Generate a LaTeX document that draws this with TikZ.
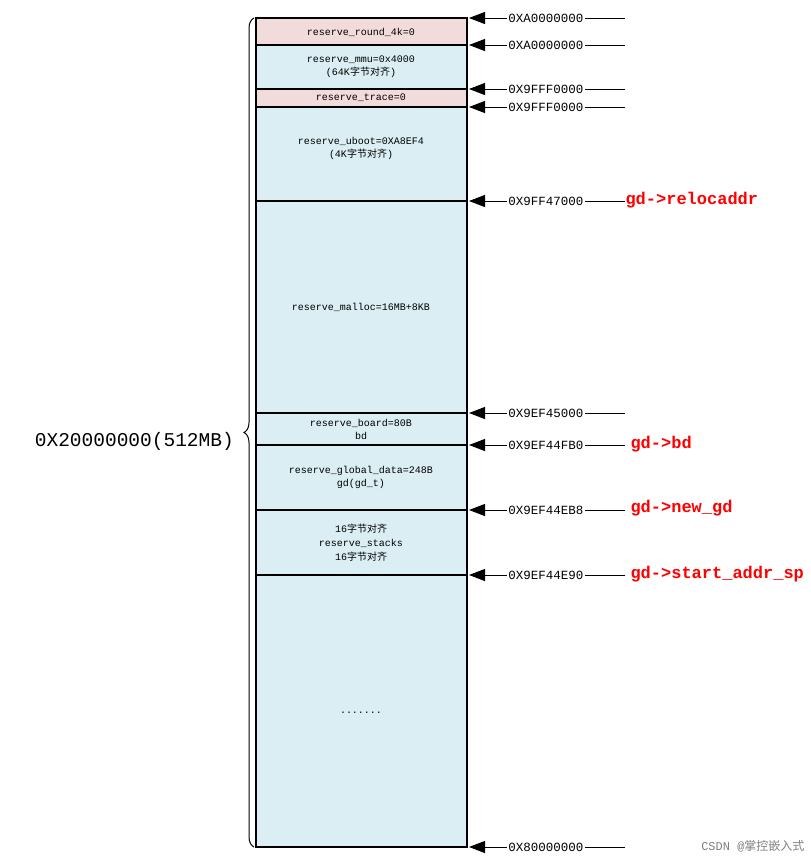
\documentclass[tikz,border=0pt]{standalone}
\usepackage{fontspec}
\setmainfont{Liberation Mono}
\newfontfamily\cjk{Noto Sans CJK SC}
\newcommand{\zh}[1]{{\cjk #1}}
\usetikzlibrary{arrows.meta,decorations.pathreplacing}
\definecolor{pinkc}{HTML}{F2DCDB}
\definecolor{bluec}{HTML}{DAEEF3}
\begin{document}
\begin{tikzpicture}[x=1pt,y=-1pt,
 seg/.style={draw=black,line width=1.1pt},
 btxt/.style={font=\fontsize{10}{13}\selectfont,align=center},
 addr/.style={font=\fontsize{12.5}{14}\selectfont,fill=white,inner sep=1pt},
 ptr/.style={-{Triangle[length=16pt,width=12pt]},line width=1pt},
 red/.style={text=red,font=\fontsize{17}{18}\selectfont\bfseries,anchor=west}]
\useasboundingbox (0,0) rectangle (811,860);
\fill[pinkc] (256,18) rectangle (467,45);
\fill[bluec] (256,45) rectangle (467,89);
\fill[pinkc] (256,89) rectangle (467,107);
\fill[bluec] (256,107) rectangle (467,847);
\draw[seg] (256,18) rectangle (467,847);
\foreach \y in {45,89,107,201,413,445,510,575} \draw[seg] (256,\y) -- (467,\y);
\node[btxt] (t1) at (361,32) {reserve\_round\_4k=0};
\node[btxt] (t2) at (361,67) {reserve\_mmu=0x4000\\(64K\zh{字节对齐})};
\node[btxt] (t3) at (361,98) {reserve\_trace=0};
\node[btxt] (t4) at (361,148) {reserve\_uboot=0XA8EF4\\(4K\zh{字节对齐})};
\node[btxt] (t5) at (361,307) {reserve\_malloc=16MB+8KB};
\node[btxt] (t6) at (361,429) {reserve\_board=80B\\bd};
\node[btxt] (t7) at (361,477) {reserve\_global\_data=248B\\gd(gd\_t)};
\node[btxt,font=\fontsize{10}{14}\selectfont] (t8) at (361,543) {16\zh{字节对齐}\\reserve\_stacks\\16\zh{字节对齐}};
\node[btxt] (t9) at (361,713) {.......};
\foreach \y/\a [count=\i] in {18/0XA0000000,45/0XA0000000,89/0X9FFF0000,107/0X9FFF0000,201/0X9FF47000,413/0X9EF45000,445/0X9EF44FB0,510/0X9EF44EB8,575/0X9EF44E90,847/0X80000000}{
  \coordinate (s\i) at (625,\y);
  \coordinate (e\i) at (469,\y);
  \draw[ptr] (s\i) -- (e\i);
  \node[addr] (a\i) at (546,\y) {\a};
}
\node[red] (r1) at (622,200) {gd->relocaddr};
\node[red] (r2) at (627,444) {gd->bd};
\node[red] (r3) at (627,508) {gd->new\_gd};
\node[red] (r4) at (627,574) {gd->start\_addr\_sp};
\draw[line width=1pt,decorate,decoration={brace,amplitude=10pt}] (254,847) -- (254,18);
\node[anchor=east,font=\fontsize{19.5}{22}\selectfont,inner sep=0pt] (big) at (234,441) {0X20000000(512MB)};
\node[anchor=south east,font=\fontsize{12}{14}\selectfont,text=gray] (wm) at (808,856) {CSDN @\zh{掌控嵌入式}};
\end{tikzpicture}
\end{document}
